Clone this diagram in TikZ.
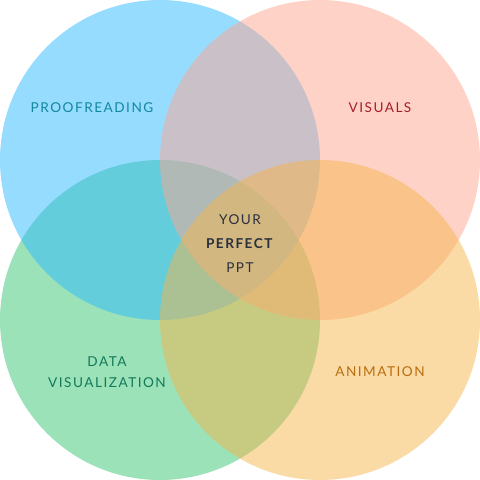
\documentclass[tikz,border=0pt]{standalone}
\usepackage{fontspec}
\newfontfamily\lbl[LetterSpace=11]{Lato}
\definecolor{cblue}{RGB}{45,185,255}
\definecolor{csalmon}{RGB}{255,165,145}
\definecolor{cgreen}{RGB}{55,197,115}
\definecolor{corange}{RGB}{245,181,75}
\definecolor{tblue}{RGB}{20,135,160}
\definecolor{tred}{RGB}{165,30,40}
\definecolor{tgreen}{RGB}{20,120,90}
\definecolor{torange}{RGB}{185,110,15}
\definecolor{tnavy}{RGB}{40,48,62}
\begin{document}
\begin{tikzpicture}[x=1pt,y=-1pt,
  circ/.style={fill opacity=0.5,draw=none},
  lab/.style={font=\lbl\fontsize{13.6}{21}\selectfont,align=center,inner sep=0pt}]
\useasboundingbox (0,0) rectangle (480,480);
\fill[circ,fill=cgreen] (160,320) circle[radius=160];
\fill[circ,fill=cblue] (160,160) circle[radius=160];
\fill[circ,fill=csalmon] (320,160) circle[radius=160];
\fill[circ,fill=corange] (320,320) circle[radius=160];
\node[lab,text=tblue] (proof) at (92,108) {PROOFREADING};
\node[lab,text=tred] (vis) at (380,108) {VISUALS};
\node[lab,text=tgreen] (data) at (107,372.5) {DATA\\VISUALIZATION};
\node[lab,text=torange] (anim) at (380,372) {ANIMATION};
\node[lab,text=tnavy,font=\lbl\fontsize{13.6}{24}\selectfont] (ctr) at (240,244) {YOUR\\\textbf{PERFECT}\\PPT};
\end{tikzpicture}
\end{document}
